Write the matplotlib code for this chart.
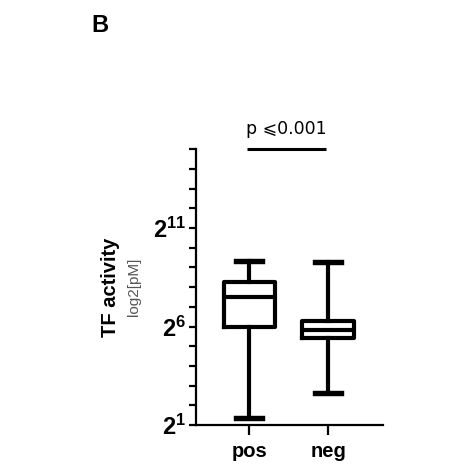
import matplotlib
matplotlib.use("Agg")
import matplotlib.pyplot as plt
from matplotlib.ticker import FixedLocator, NullFormatter

plt.rcParams['font.family'] = ['Liberation Sans', 'DejaVu Sans']
plt.rcParams['mathtext.fontset'] = 'custom'
plt.rcParams['mathtext.rm'] = 'Liberation Sans:bold'
plt.rcParams['mathtext.bf'] = 'Liberation Sans:bold'

# Data (pM), read as log2 exponents from the picture
groups = ["pos", "neg"]
whislo_exp = [1.34, 2.64]
q1_exp = [5.97, 5.42]
med_exp = [7.48, 5.84]
q3_exp = [8.24, 6.28]
whishi_exp = [9.34, 9.27]
major_exps = [1, 6, 11]
all_exps = list(range(1, 16))
p_text = "p \u2a7d0.001"

stats = []
for i, g in enumerate(groups):
    stats.append(dict(label=g, whislo=2 ** whislo_exp[i], q1=2 ** q1_exp[i],
                      med=2 ** med_exp[i], q3=2 ** q3_exp[i], whishi=2 ** whishi_exp[i]))

fig = plt.figure(figsize=(4.74, 4.74), dpi=100)
ax = fig.add_axes([0.4135, 0.1034, 0.807 - 0.4135, 0.685 - 0.1034])

lw = 3.0
ax.bxp(stats, positions=[1, 2], widths=0.65, showfliers=False, patch_artist=False,
       boxprops=dict(linewidth=lw, color='black'),
       medianprops=dict(linewidth=lw, color='black'),
       whiskerprops=dict(linewidth=lw, color='black'),
       capprops=dict(linewidth=lw * 1.3, color='black'),
       capwidths=0.33)

ax.set_yscale('log', base=2)
ax.set_ylim(2 ** 1, 2 ** 15)
ax.set_xlim(0.325, 2.69)

ax.yaxis.set_major_locator(FixedLocator([2 ** e for e in major_exps]))
ax.set_yticklabels([r'$\mathbf{2^{%d}}$' % e for e in major_exps], fontsize=17)
ax.yaxis.set_minor_locator(FixedLocator([2 ** e for e in all_exps if e not in major_exps]))
ax.yaxis.set_minor_formatter(NullFormatter())

ax.set_xticks([1, 2])
ax.set_xticklabels(groups, fontsize=14.5, fontweight='bold')

for s in ['top', 'right']:
    ax.spines[s].set_visible(False)
for s in ['left', 'bottom']:
    ax.spines[s].set_linewidth(1.6)

ax.tick_params(axis='y', which='both', direction='out', length=5, width=1.6, pad=2)
ax.tick_params(axis='x', which='major', direction='out', length=7, width=1.6, pad=5)

fig.text(110 / 474, 1 - 287 / 474, "TF activity", rotation=90, fontsize=14.5,
         fontweight='bold', ha='center', va='center')
fig.text(134 / 474, 1 - 287 / 474, "log2[pM]", rotation=90, fontsize=11,
         color='#555555', ha='center', va='center')
fig.text(100 / 474, 1 - 25 / 474, "B", fontsize=17, fontweight='bold', ha='center', va='center')

# significance bar
ax.plot([1 - 0.03, 2 - 0.03], [2 ** 15, 2 ** 15], color='black', lw=2.2,
        clip_on=False, solid_capstyle='butt')
fig.text(286 / 474, 1 - 129 / 474, p_text, fontsize=12.5, ha='center', va='center',
         family=['DejaVu Sans'])

fig.savefig("out.png", dpi=100)
